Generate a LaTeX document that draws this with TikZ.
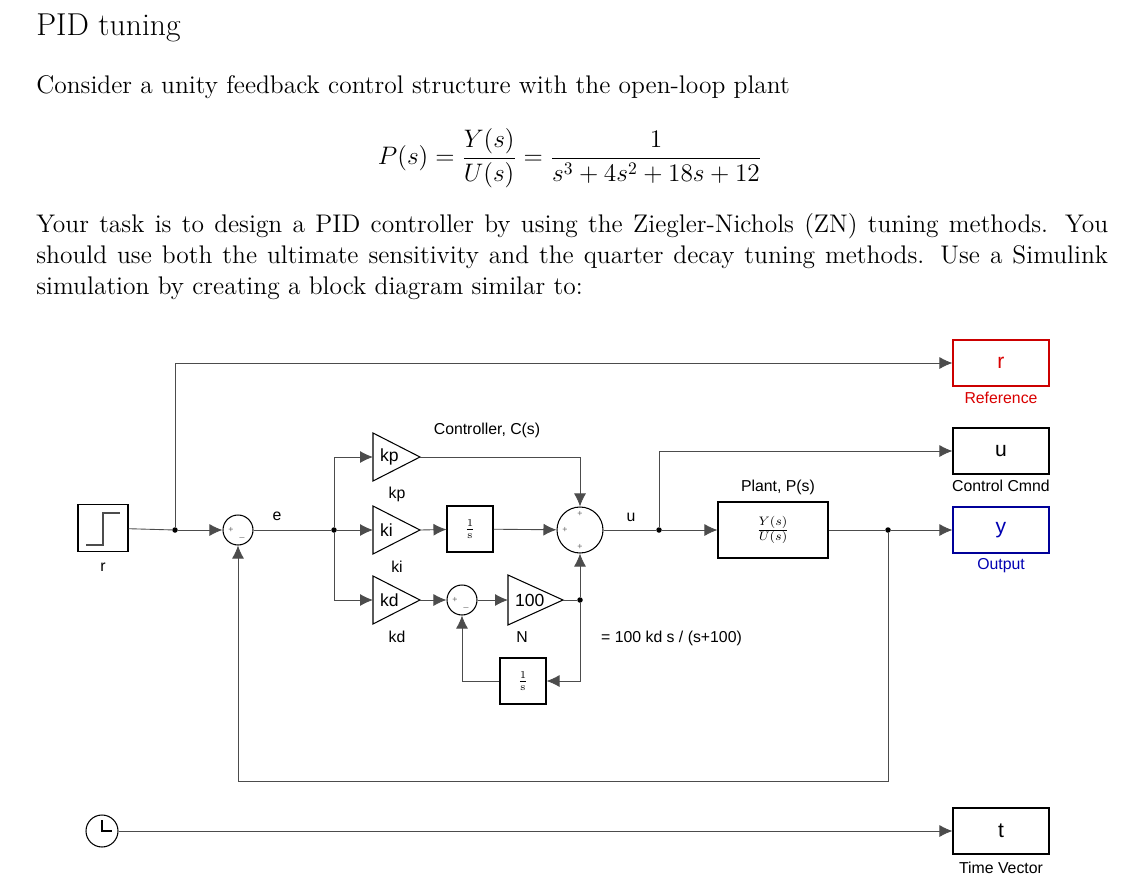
\documentclass[tikz,border=0pt]{standalone}
\usepackage{fontspec}
\newfontfamily\diag{Liberation Sans}
\renewcommand\rmdefault{ppl}
\usetikzlibrary{arrows.meta}
\tikzset{
  wire/.style={draw=black!70, line width=0.5pt},
  arr/.style={wire, -{Latex[length=2.6mm,width=2.4mm]}},
  blk/.style={draw, line width=0.6pt, minimum width=0.92cm, minimum height=0.92cm, inner sep=0pt, font=\diag\small},
  sumc/.style={draw, circle, line width=0.6pt, inner sep=0pt},
  lab/.style={font=\diag\fontsize{9}{10}\selectfont},
  sgn/.style={font=\diag\fontsize{5}{5}\selectfont, text=black!60, inner sep=0pt},
  dot/.style={circle, fill=black, inner sep=0pt, minimum size=1.1mm}
}
\begin{document}
\begin{tikzpicture}[x=0.02cm,y=-0.02cm]
\useasboundingbox (0,0) rectangle (1144,883);
% text
\node[anchor=base west, inner sep=0pt, font=\fontsize{18}{22}\selectfont\bfseries] at (36,35) {PID tuning};
\node[anchor=base west, inner sep=0pt, font=\fontsize{14.5}{17.6}\selectfont] at (36,93) {Consider a unity feedback control structure with the open-loop plant};
\node[inner sep=0pt, font=\fontsize{14.5}{17.6}\selectfont] at (570,158) {$\displaystyle P(s)=\frac{Y(s)}{U(s)}=\frac{1}{s^3+4s^2+18s+12}$};
\node[anchor=north west, inner sep=0pt, text width=21.44cm, align=justify, font=\fontsize{14.5}{17.6}\selectfont] at (36,213) {Your task is to design a PID controller by using the Ziegler-Nichols (ZN) tuning methods. You should use both the ultimate sensitivity and the quarter decay tuning methods. Use a Simulink simulation by creating a block diagram similar to:};
% blocks
\node[blk, minimum width=1cm, minimum height=0.94cm] (step) at (103,528) {};
\draw[black!70, line width=0.7pt] (86,545) -- (103,545) -- (103,513) -- (120,513);
\node[lab, above] at (103,578) {r};
\node[sumc, minimum size=0.6cm] (s1) at (238,530) {};
\node[sgn] at (231,530) {+}; \node[sgn] at (242,537) {\_};
\node[dot] (j1) at (175,530) {};
\node[dot] (j2) at (334,530) {};
\node[blk, draw=red!80!black, minimum width=1.92cm, text=red!85!black, font=\diag\large] (r) at (1001,363) {r};
\node[lab, text=red!85!black] at (1001,398) {Reference};
\node[blk, minimum width=1.92cm, font=\diag\large] (u) at (1001,451) {u};
\node[lab] at (1001,486) {Control Cmnd};
\node[blk, draw=blue!60!black, minimum width=1.92cm, text=blue!70!black, font=\diag\large] (y) at (1001,530) {y};
\node[lab, text=blue!70!black] at (1001,566) {Output};
\node[blk, minimum width=1.92cm, font=\diag\large] (t) at (1001,831) {t};
\node[lab] at (1001,868) {Time Vector};
\node[lab] at (277,516) {e};
\node[lab] at (487,430) {Controller, C(s)};
% gains
\coordinate (kpin) at (373,457); \coordinate (kpout) at (420,457);
\coordinate (kiin) at (373,530); \coordinate (kiout) at (420,530);
\coordinate (kdin) at (373,600); \coordinate (kdout) at (420,600);
\foreach \n/\yy in {kp/457, ki/530, kd/600} {
  \draw[line width=0.6pt] (373,\yy-24) -- (420,\yy) -- (373,\yy+24) -- cycle;
  \node[lab, anchor=west, font=\diag\fontsize{10}{10}\selectfont] at (374,\yy) {\n};
  \node[lab] at (397,\yy+37) {\n};
}
\node[blk] (int1) at (470,529) {$\frac{1}{\mathrm{s}}$};
\node[sumc, minimum size=0.92cm] (s2) at (580,530) {};
\node[sgn] at (580,514) {+}; \node[sgn] at (565,530) {+}; \node[sgn] at (580,547) {+};
\node[sumc, minimum size=0.6cm] (s3) at (462,600) {};
\node[sgn] at (455,600) {+}; \node[sgn] at (466,607) {\_};
\coordinate (Nin) at (508,600); \coordinate (Nout) at (563,600);
\draw[line width=0.6pt] (508,575) -- (563,600) -- (508,625) -- cycle;
\node[lab, anchor=west, font=\diag\fontsize{10}{10}\selectfont] at (509,600) {100};
\node[lab] at (522,637) {N};
\node[dot] (j3) at (580,600) {};
\node[blk] (int2) at (523,681) {$\frac{1}{\mathrm{s}}$};
\node[lab, anchor=west] at (595,638) {= 100 kd s / (s+100)};
\node[lab] at (631,517) {u};
\node[dot] (j4) at (659,530) {};
\node[blk, minimum width=2.2cm, minimum height=1.12cm, font=\normalsize] (P) at (773,530) {$\frac{Y(s)}{U(s)}$};
\node[lab] at (778,487) {Plant, P(s)};
\node[dot] (j5) at (888,530) {};
\node[draw, circle, line width=0.6pt, minimum size=0.64cm] (clk) at (102,831) {};
\draw[line width=0.6pt] (102,820) -- (102,831) -- (112,831);
% wires
\draw[wire] (step) -- (j1);
\draw[arr] (j1) -- (s1);
\draw[arr] (j1) |- (r);
\draw[wire] (s1) -- (j2);
\draw[arr] (j2) |- (kpin);
\draw[arr] (j2) -- (kiin);
\draw[arr] (j2) |- (kdin);
\draw[arr] (kpout) -| (s2);
\draw[arr] (kiout) -- (int1);
\draw[arr] (int1) -- (s2);
\draw[arr] (kdout) -- (s3);
\draw[arr] (s3) -- (Nin);
\draw[wire] (Nout) -- (j3);
\draw[arr] (j3) -- (s2);
\draw[arr] (j3) |- (int2);
\draw[arr] (int2) -| (s3);
\draw[wire] (s2) -- (j4);
\draw[arr] (j4) -- (P);
\draw[arr] (j4) |- (u);
\draw[wire] (P) -- (j5);
\draw[arr] (j5) -- (y);
\draw[arr] (j5) -- (888,781) -| (s1);
\draw[arr] (clk) -- (t);
\end{tikzpicture}
\end{document}
